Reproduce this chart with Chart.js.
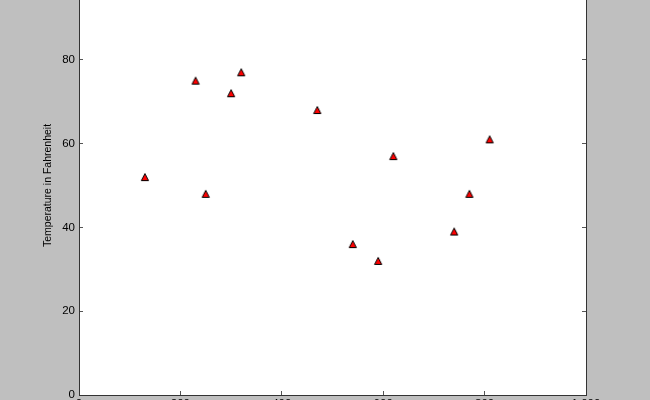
<!DOCTYPE html>
<html>
<head>
<meta charset="utf-8">
<script src="https://cdn.jsdelivr.net/npm/chart.js@4"></script>
<style>
  html, body { margin: 0; padding: 0; background: #bfbfbf; overflow: hidden; }
  body { width: 650px; height: 400px; position: relative; }
  #wrap { position: absolute; left: 0; top: -39px; width: 650px; height: 474px; }
</style>
</head>
<body>
<div id="wrap"><canvas id="chart"></canvas></div>
<script>
// data
const xValues = [130, 230, 250, 300, 320, 470, 540, 590, 620, 740, 770, 810];
const yValues = [52, 75, 48, 72, 77, 68, 36, 32, 57, 39, 48, 61];
const xTicks = [0, 200, 400, 600, 800, 1000];
const yTicks = [0, 20, 40, 60, 80, 100];
const yLabel = 'Temperature in Fahrenheit';

const points = xValues.map((x, i) => ({ x: x, y: yValues[i] }));

// matplotlib style '^' marker: as tall as it is wide, centred on its box
function triangleMarker() {
  const c = document.createElement('canvas');
  c.width = 10;
  c.height = 10;
  const ctx = c.getContext('2d');
  ctx.beginPath();
  ctx.moveTo(5, 1.5);
  ctx.lineTo(8.6, 8.5);
  ctx.lineTo(1.4, 8.5);
  ctx.closePath();
  ctx.fillStyle = '#ff0000';
  ctx.fill();
  ctx.lineWidth = 1;
  ctx.strokeStyle = '#000000';
  ctx.stroke();
  return c;
}

// white plot area on the grey figure
const plotBackground = {
  id: 'plotBackground',
  beforeDraw(chart) {
    const { ctx, chartArea: a } = chart;
    ctx.save();
    ctx.fillStyle = '#ffffff';
    ctx.fillRect(a.left, a.top, a.right - a.left, a.bottom - a.top);
    ctx.restore();
  }
};

const font = { family: "'Liberation Sans', Arial, sans-serif", size: 11.5 };

new Chart(document.getElementById('chart'), {
  type: 'scatter',
  data: {
    datasets: [{
      data: points,
      pointStyle: triangleMarker(),
      pointRadius: 5,
      pointHoverRadius: 5,
      backgroundColor: '#ff0000',
      borderColor: '#000000',
      borderWidth: 1
    }]
  },
  options: {
    responsive: true,
    maintainAspectRatio: false,
    animation: false,
    layout: { autoPadding: false, padding: { left: 0, right: 64, top: 0, bottom: 0 } },
    plugins: { legend: { display: false }, tooltip: { enabled: false } },
    scales: {
      x: {
        type: 'linear',
        min: xTicks[0],
        max: xTicks[xTicks.length - 1],
        afterBuildTicks: s => { s.ticks = xTicks.map(v => ({ value: v })); },
        afterFit: s => { s.height = 40; },
        grid: { drawOnChartArea: false, tickLength: -4, color: '#555' },
        border: { display: true, color: '#333', width: 1 },
        ticks: { color: '#000', font: font, padding: 6, maxRotation: 0 }
      },
      y: {
        type: 'linear',
        position: 'left',
        min: yTicks[0],
        max: yTicks[yTicks.length - 1],
        afterBuildTicks: s => { s.ticks = yTicks.map(v => ({ value: v })); },
        afterFit: s => { s.width = 79; },
        grid: { drawOnChartArea: false, tickLength: -4, color: '#555' },
        border: { display: true, color: '#333', width: 1 },
        ticks: { color: '#000', font: font, padding: 8 },
        title: {
          display: true,
          text: yLabel,
          color: '#000',
          font: { family: "'Liberation Sans', Arial, sans-serif", size: 10.5 },
          padding: { top: 42, bottom: 0 }
        }
      },
      y2: {
        type: 'linear',
        position: 'right',
        min: yTicks[0],
        max: yTicks[yTicks.length - 1],
        afterBuildTicks: s => { s.ticks = yTicks.map(v => ({ value: v })); },
        afterFit: s => { s.width = 0; },
        grid: { drawOnChartArea: false, tickLength: -4, color: '#555' },
        border: { display: true, color: '#333', width: 1 },
        ticks: { display: false }
      }
    }
  },
  plugins: [plotBackground]
});
</script>
</body>
</html>
